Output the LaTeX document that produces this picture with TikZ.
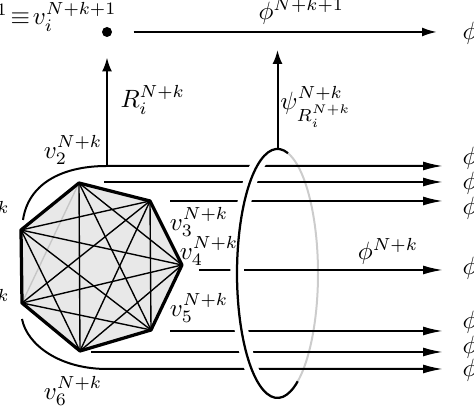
\documentclass[tikz,border=0pt]{standalone}
\usetikzlibrary{arrows.meta}
\begin{document}
\begin{tikzpicture}[x=0.4pt,y=-0.4pt,
  flow/.style={line width=0.8pt,-{Latex[length=8pt,width=3.6pt]}},
  uparr/.style={line width=0.8pt,-{Latex[length=5.6pt,width=4pt]}},
  toparr/.style={line width=0.8pt,-{Latex[length=6pt,width=3.6pt]}},
  lbl/.style={inner sep=0pt},
  hedge/.style={line width=0.55pt},
  hbound/.style={line width=1.3pt,line join=round},
]
\useasboundingbox (0,0) rectangle (474,410);

% heptagon vertices
\coordinate (A) at (79,183);
\coordinate (B) at (150,201);
\coordinate (C) at (182,265);
\coordinate (D) at (151,330);
\coordinate (E) at (80,351);
\coordinate (F) at (22,303);
\coordinate (G) at (21,230);

\fill[gray!18] (A)--(B)--(C)--(D)--(E)--(F)--(G)--cycle;
\draw[hedge,gray!45] (A)--(F);
\foreach \a/\b in {A/C,A/D,A/E,B/D,B/E,B/F,B/G,C/E,C/F,C/G,D/F,D/G,E/G}
  \draw[hedge] (\a)--(\b);
\draw[hbound] (A)--(B)--(C)--(D)--(E)--(F)--(G)--cycle;

% back (grey) part of the ellipse
\draw[gray!40,line width=0.8pt] (277.5,273.5) ellipse [x radius=40.5, y radius=124.5];

% flow rows
\coordinate (c1) at (23,220);
\coordinate (R0) at (107,166);
\coordinate (s2) at (104,182);
\coordinate (s3) at (170,201);
\coordinate (s4) at (199,270);
\coordinate (s5) at (170,331);
\coordinate (s6) at (91,352);
\coordinate (c7) at (22,319);
\coordinate (b7) at (107,369);
\coordinate (t1) at (443,166);
\coordinate (t2) at (443,182);
\coordinate (t3) at (443,201);
\coordinate (t4) at (443,270);
\coordinate (t5) at (443,331);
\coordinate (t6) at (443,352);
\coordinate (t7) at (443,369);

\draw[flow] (c1) .. controls (28,185) and (60,166) .. (R0) -- (t1);
\draw[flow] (s2) -- (t2);
\draw[flow] (s3) -- (t3);
\draw[flow] (s4) -- (t4);
\draw[flow] (s5) -- (t5);
\draw[flow] (s6) -- (t6);
\draw[flow] (c7) .. controls (27,345) and (60,369) .. (b7) -- (t7);

% front (black) part of the ellipse, with a white halo cutting the rows
\draw[white,line width=5.4pt] (288,153.2) arc[start angle=-75, end angle=-300, x radius=40.5, y radius=124.5];
\draw[line width=0.9pt] (288,153.2) arc[start angle=-75, end angle=-300, x radius=40.5, y radius=124.5];

% top level
\node[circle,fill,inner sep=0pt,minimum size=4pt] (dot) at (107,32) {};
\coordinate (ttop) at (437,32);
\draw[toparr,shorten <=8.4pt] (dot.east) -- (ttop);
\draw[uparr,shorten >=8pt] (R0) -- (dot.south);
\coordinate (etop) at (277.5,149);
\coordinate (psitip) at (277.5,50);
\draw[uparr] (etop) -- (psitip);

% labels
\node[lbl,anchor=base east] (lv) at (117,25) {$^{1}\!\equiv\! v_i^{N+k+1}$};
\node[lbl,anchor=base west] (lphi1) at (258,20) {$\phi^{N+k+1}$};
\node[lbl,anchor=base west] (lR) at (120,108) {$R_i^{N+k}$};
\node[lbl] (lpsi) at (316,107) {$\psi^{N+k}_{R_i^{N+k}}$};
\node[lbl] (lv2) at (73,150) {$v_2^{N+k}$};
\node[lbl] (lv3) at (199,222) {$v_3^{N+k}$};
\node[lbl] (lv4) at (209,251) {$v_4^{N+k}$};
\node[lbl] (lv5) at (199,308) {$v_5^{N+k}$};
\node[lbl] (lv6) at (73,391) {$v_6^{N+k}$};
\node[lbl] (lphik) at (388,251) {$\phi^{N+k}$};
\node[lbl] (k1) at (3,207) {$\scriptstyle k$};
\node[lbl] (k2) at (3,295) {$\scriptstyle k$};

\foreach \n/\y in {0/33,1/158,2/183,3/208,4/268,5/322,6/347,7/370}
  \node[lbl,anchor=west] (phi\n) at (462,\y) {$\phi$};
\end{tikzpicture}
\end{document}
